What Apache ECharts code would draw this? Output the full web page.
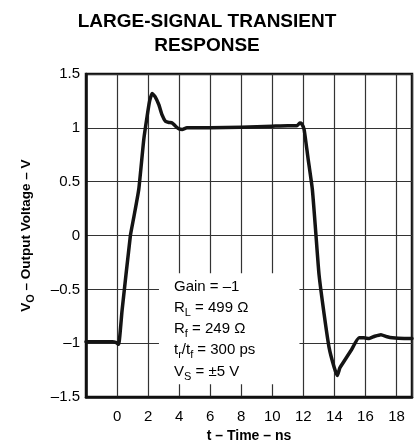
<!DOCTYPE html>
<html><head><meta charset="utf-8">
<script src="https://cdn.jsdelivr.net/npm/echarts@6/dist/echarts.min.js"></script>
<style>html,body{margin:0;padding:0;background:#fff}#c{width:414px;height:448px}</style>
</head><body><div id="c"></div>
<script>
// ---- data ----
const timeNs = [-2, -1, -0.3, -0.05, 0.1, 0.32, 0.86, 1.08, 1.4, 1.72, 1.94, 2.1, 2.26, 2.45, 2.69, 2.9, 3.12, 3.35, 3.55, 3.77, 4.0, 4.2, 4.5, 6, 8, 9, 10, 11, 11.6, 11.77, 11.88, 12.05, 12.3, 12.58, 12.8, 13.01, 13.34, 13.66, 13.98, 14.19, 14.35, 14.52, 15.06, 15.59, 15.9, 16.24, 16.6, 17.0, 17.4, 17.74, 18.5, 19];
const outputV = [-0.985, -0.985, -0.985, -0.995, -1.01, -0.70, 0.0, 0.17, 0.43, 0.89, 1.11, 1.25, 1.32, 1.29, 1.215, 1.12, 1.06, 1.05, 1.046, 1.015, 0.99, 0.985, 1.0, 1.0, 1.005, 1.01, 1.015, 1.02, 1.02, 1.045, 1.04, 0.985, 0.72, 0.43, 0.03, -0.36, -0.73, -1.04, -1.22, -1.30, -1.23, -1.19, -1.07, -0.95, -0.95, -0.955, -0.935, -0.92, -0.94, -0.95, -0.955, -0.955];
const chartTitle = 'LARGE-SIGNAL TRANSIENT\nRESPONSE';
const xAxisName = 't – Time – ns';
const yAxisName = 'V{s|O} – Output Voltage – V';
const conditionLines = ['Gain = –1', 'R{s|L} = 499 Ω', 'R{s|f} = 249 Ω', 't{s|r}/t{s|f} = 300 ps', 'V{s|S} = ±5 V'];
const xMin = -2, xMax = 19, xStep = 2;
const yMin = -1.5, yMax = 1.5, yStep = 0.5;
// annotation box corners in data units [t, V]
const boxTopLeft = [2.7, -0.35];
const boxBottomRight = [11.75, -1.38];

const FONT = '"Liberation Sans", Arial, Helvetica, sans-serif';
const chart = echarts.init(document.getElementById('c'), null, {renderer: 'canvas'});
const fmtNum = v => String(v).replace('-', '–');

chart.setOption({
  animation: false,
  backgroundColor: '#fff',
  title: {
    text: chartTitle, left: 'center', top: 10, padding: 0,
    textStyle: {fontFamily: FONT, fontSize: 19, fontWeight: 'bold', color: '#000', lineHeight: 24}
  },
  grid: {left: 86, top: 74, right: 2, bottom: 48, show: true, borderColor: '#111', borderWidth: 2.5, backgroundColor: 'transparent'},
  xAxis: {
    type: 'value', min: xMin, max: xMax, interval: xStep,
    name: xAxisName, nameLocation: 'middle', nameGap: 29,
    nameTextStyle: {fontFamily: FONT, fontSize: 14, fontWeight: 'bold', color: '#000'},
    axisLine: {show: true, onZero: false, lineStyle: {color: '#111', width: 2.5}},
    axisTick: {show: false},
    axisLabel: {fontFamily: FONT, fontSize: 15, color: '#000', margin: 12,
      formatter: v => (v < 0 ? '' : fmtNum(v))},
    splitLine: {show: true, lineStyle: {color: '#333', width: 1.2}}
  },
  yAxis: {
    type: 'value', min: yMin, max: yMax, interval: yStep,
    name: yAxisName, nameLocation: 'middle', nameGap: 50, nameRotate: 90,
    nameTextStyle: {fontFamily: FONT, fontSize: 13.5, fontWeight: 'bold', color: '#000', lineHeight: 19,
      rich: {s: {fontFamily: FONT, fontSize: 11, fontWeight: 'bold', color: '#000', verticalAlign: 'bottom', lineHeight: 11}}},
    axisLine: {show: true, onZero: false, lineStyle: {color: '#111', width: 2.5}},
    axisTick: {show: false},
    axisLabel: {fontFamily: FONT, fontSize: 15, color: '#000', margin: 6, formatter: v => fmtNum(v)},
    splitLine: {show: true, lineStyle: {color: '#333', width: 1.2}}
  },
  series: [{
    type: 'line', data: timeNs.map((t, i) => [t, outputV[i]]),
    showSymbol: false, smooth: 0.15, z: 5,
    lineStyle: {color: '#141414', width: 3.5, join: 'round', cap: 'round'}
  }]
});

function placeBox() {
  const a = chart.convertToPixel({gridIndex: 0}, boxTopLeft);
  const b = chart.convertToPixel({gridIndex: 0}, boxBottomRight);
  chart.setOption({graphic: [
    {type: 'rect', z: 3, shape: {x: a[0], y: a[1], width: b[0] - a[0], height: b[1] - a[1]}, style: {fill: '#fff'}},
    {type: 'text', z: 4, x: a[0] + 15, y: a[1] + 2.5, style: {
      text: conditionLines.join('\n'), fontFamily: FONT, fontSize: 15, lineHeight: 21.3, fill: '#000',
      rich: {s: {fontFamily: FONT, fontSize: 11, fill: '#000', verticalAlign: 'bottom', lineHeight: 13}}
    }}
  ]});
}
placeBox();
</script></body></html>
